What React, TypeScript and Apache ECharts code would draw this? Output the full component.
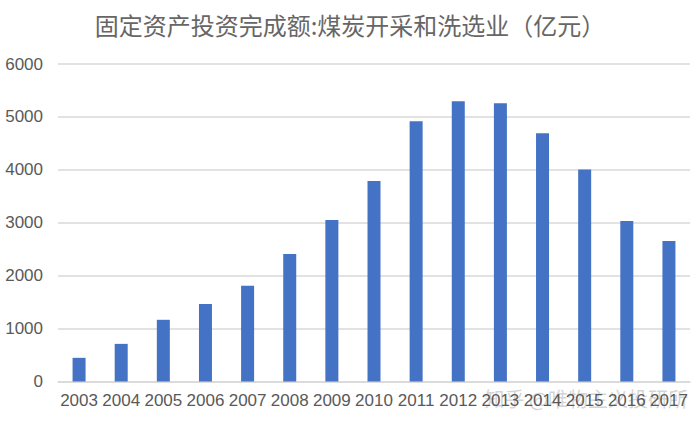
import React, { useEffect, useRef } from "react";
import * as echarts from "echarts";

const years = ["2003","2004","2005","2006","2007","2008","2009","2010","2011","2012","2013","2014","2015","2016","2017"];
const investment = [447, 711, 1166, 1463, 1809, 2409, 3052, 3790, 4919, 5297, 5260, 4691, 4005, 3032, 2655];
const titleText = "固定资产投资完成额:煤炭开采和洗选业（亿元）";
const watermark = "知乎 @唯物主义投研所";

export default function App() {
  const ref = useRef<HTMLDivElement>(null);
  useEffect(() => {
    if (!ref.current) return;
    const chart = echarts.init(ref.current, null, { renderer: "svg" });
    const font = "'Liberation Sans', Arial, 'Noto Sans CJK SC', sans-serif";
    chart.setOption({
      animation: false,
      backgroundColor: "#ffffff",
      title: {
        text: titleText,
        left: "center",
        top: 7,
        textStyle: { fontSize: 24, fontWeight: "normal", color: "#666666", fontFamily: "'Noto Sans CJK SC', sans-serif" },
      },
      grid: { left: 58, right: 10, top: 64, bottom: 44.5 },
      xAxis: {
        type: "category",
        data: years,
        axisTick: { show: false },
        axisLine: { lineStyle: { color: "#d9d9d9", width: 1.5 } },
        axisLabel: { color: "#595959", fontSize: 17, fontFamily: font, margin: 10, interval: 0 },
      },
      yAxis: {
        type: "value",
        min: 0,
        max: 6000,
        interval: 1000,
        axisLine: { show: false },
        axisTick: { show: false },
        splitLine: { lineStyle: { color: "#d9d9d9", width: 1.5 } },
        axisLabel: { color: "#595959", fontSize: 17, fontFamily: font, margin: 15, formatter: (v: number) => String(v) },
      },
      series: [
        {
          type: "bar",
          data: investment,
          barWidth: 13,
          itemStyle: { color: "#4472C4" },
        },
      ],
      graphic: [
        {
          type: "text",
          right: 12,
          top: 388,
          style: {
            text: watermark,
            fontSize: 20,
            fill: "rgba(170,170,170,0.5)",
            fontFamily: "'Noto Sans CJK SC', sans-serif",
          },
        },
      ],
    });
    return () => chart.dispose();
  }, []);
  return <div ref={ref} style={{ width: 700, height: 426, position: "absolute", left: 0, top: 0 }} />;
}
